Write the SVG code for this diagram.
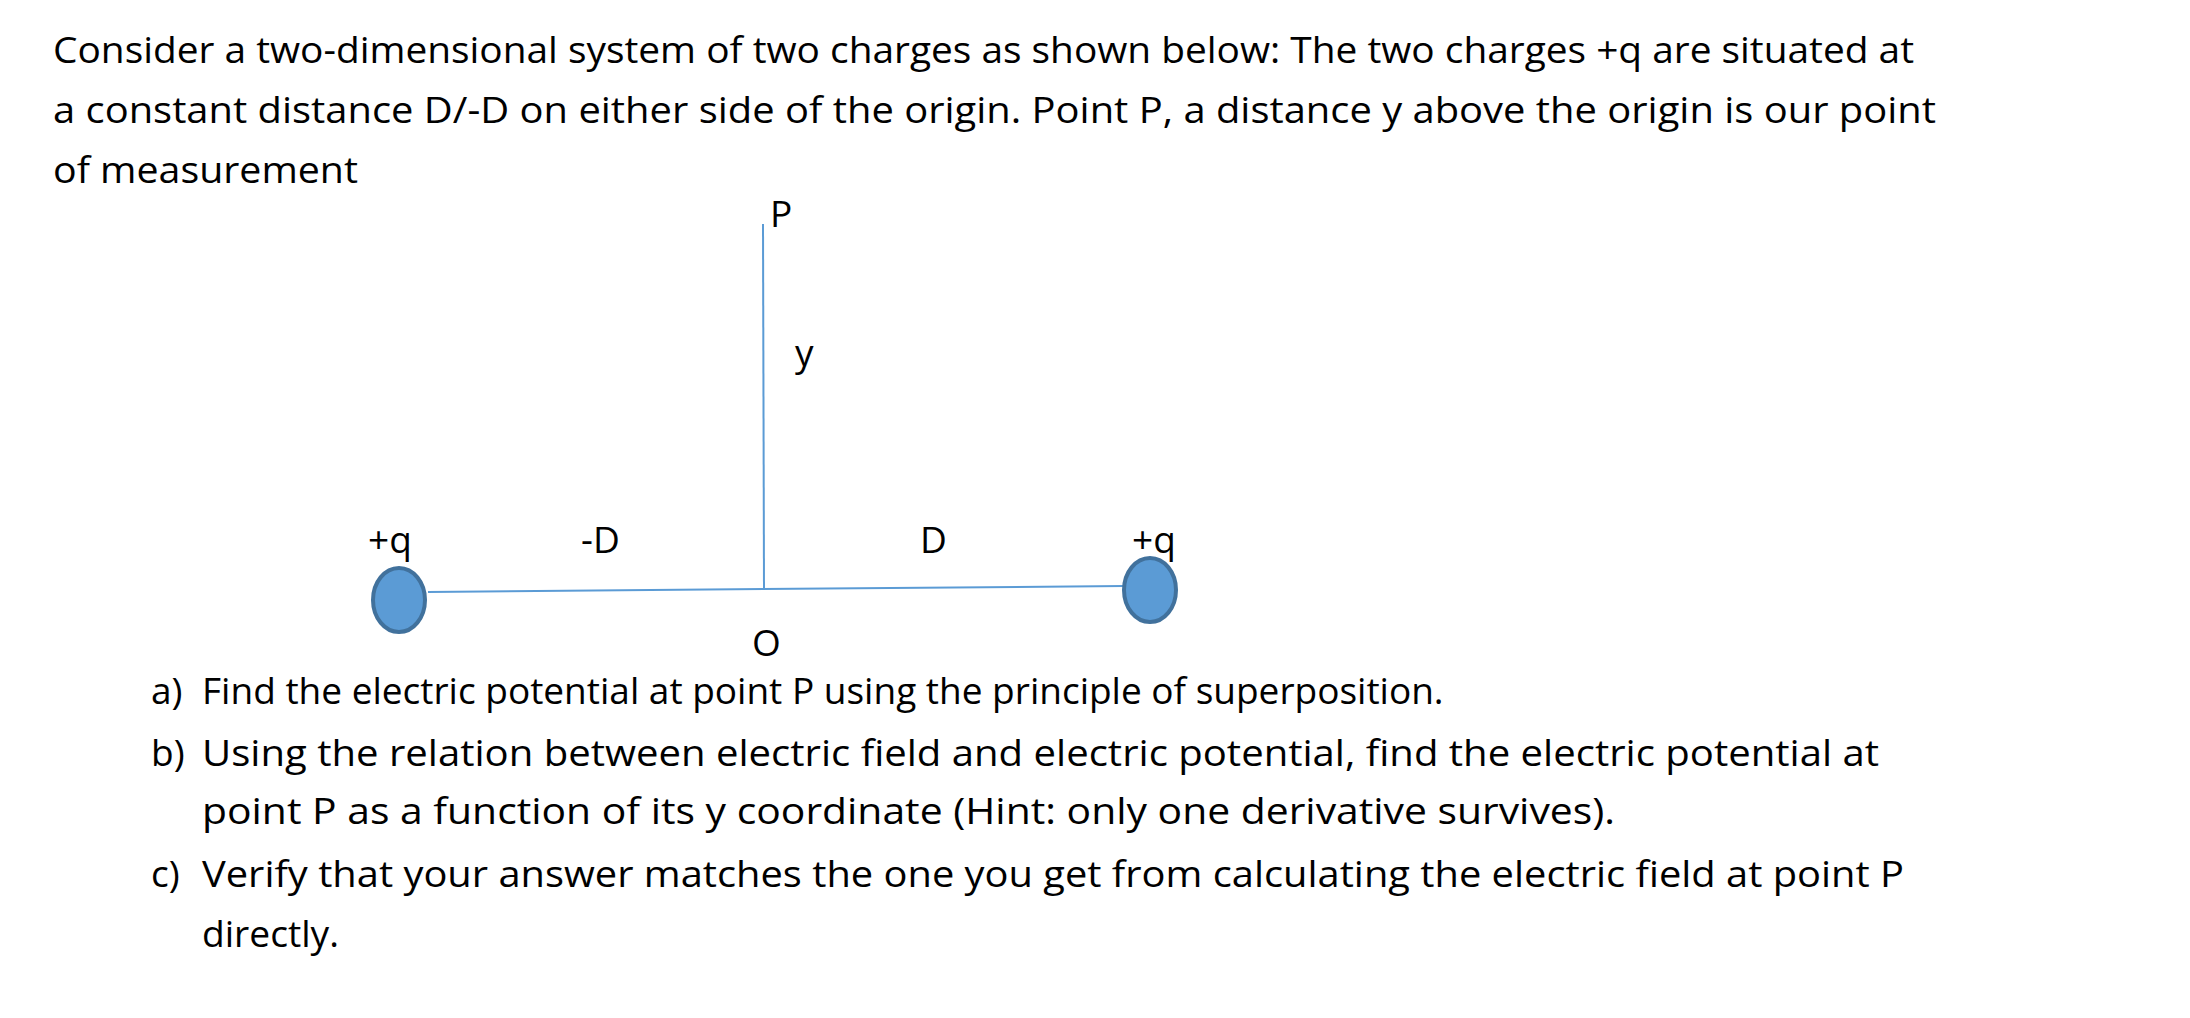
<svg xmlns="http://www.w3.org/2000/svg" width="2190" height="1018" viewBox="0 0 2190 1018">
<style>
text{font-family:"Open Sans","Liberation Sans",sans-serif;font-size:37px;fill:#000}
.ln{stroke:#5b9bd5;stroke-width:2;fill:none}
.chg{fill:#5b9bd5;stroke:#41719c;stroke-width:4}
</style>
<rect width="2190" height="1018" fill="#fff"/>
<g id="intro">
<text x="53" y="63" textLength="1861" lengthAdjust="spacingAndGlyphs">Consider a two-dimensional system of two charges as shown below: The two charges +q are situated at</text>
<text x="53" y="123" textLength="1883" lengthAdjust="spacingAndGlyphs">a constant distance D/-D  on either side of the origin. Point P, a distance y above the origin is our point</text>
<text x="53" y="183" textLength="305" lengthAdjust="spacingAndGlyphs">of measurement</text>
</g>
<g id="connectors">
<line class="ln" x1="763" y1="224" x2="764" y2="590"/>
<line class="ln" x1="428" y1="592" x2="1124" y2="586"/>
</g>
<g id="chargeLeft"><ellipse class="chg" cx="399" cy="600" rx="26" ry="32"/><text x="368" y="553">+q</text></g>
<g id="chargeRight"><ellipse class="chg" cx="1150" cy="590" rx="26" ry="32"/><text x="1132" y="553">+q</text></g>
<g id="labels">
<text x="770" y="227">P</text>
<text x="795" y="366">y</text>
<text x="581" y="553">-D</text>
<text x="920" y="553">D</text>
<text x="752" y="656" font-size="35">O</text>
</g>
<g id="questions">
<text x="151" y="704">a)</text>
<text x="202" y="704">Find the electric potential at point P using the principle of superposition.</text>
<text x="151" y="766">b)</text>
<text x="202" y="766" textLength="1677" lengthAdjust="spacingAndGlyphs">Using the relation between electric field and electric potential, find the electric potential at</text>
<text x="202" y="824" textLength="1413" lengthAdjust="spacingAndGlyphs">point P as a function of its y coordinate (Hint: only one derivative survives).</text>
<text x="151" y="887">c)</text>
<text x="202" y="887" textLength="1702" lengthAdjust="spacingAndGlyphs">Verify that your answer matches the one you get from calculating the electric field at point P</text>
<text x="202" y="947" textLength="137" lengthAdjust="spacingAndGlyphs">directly.</text>
</g>
</svg>
